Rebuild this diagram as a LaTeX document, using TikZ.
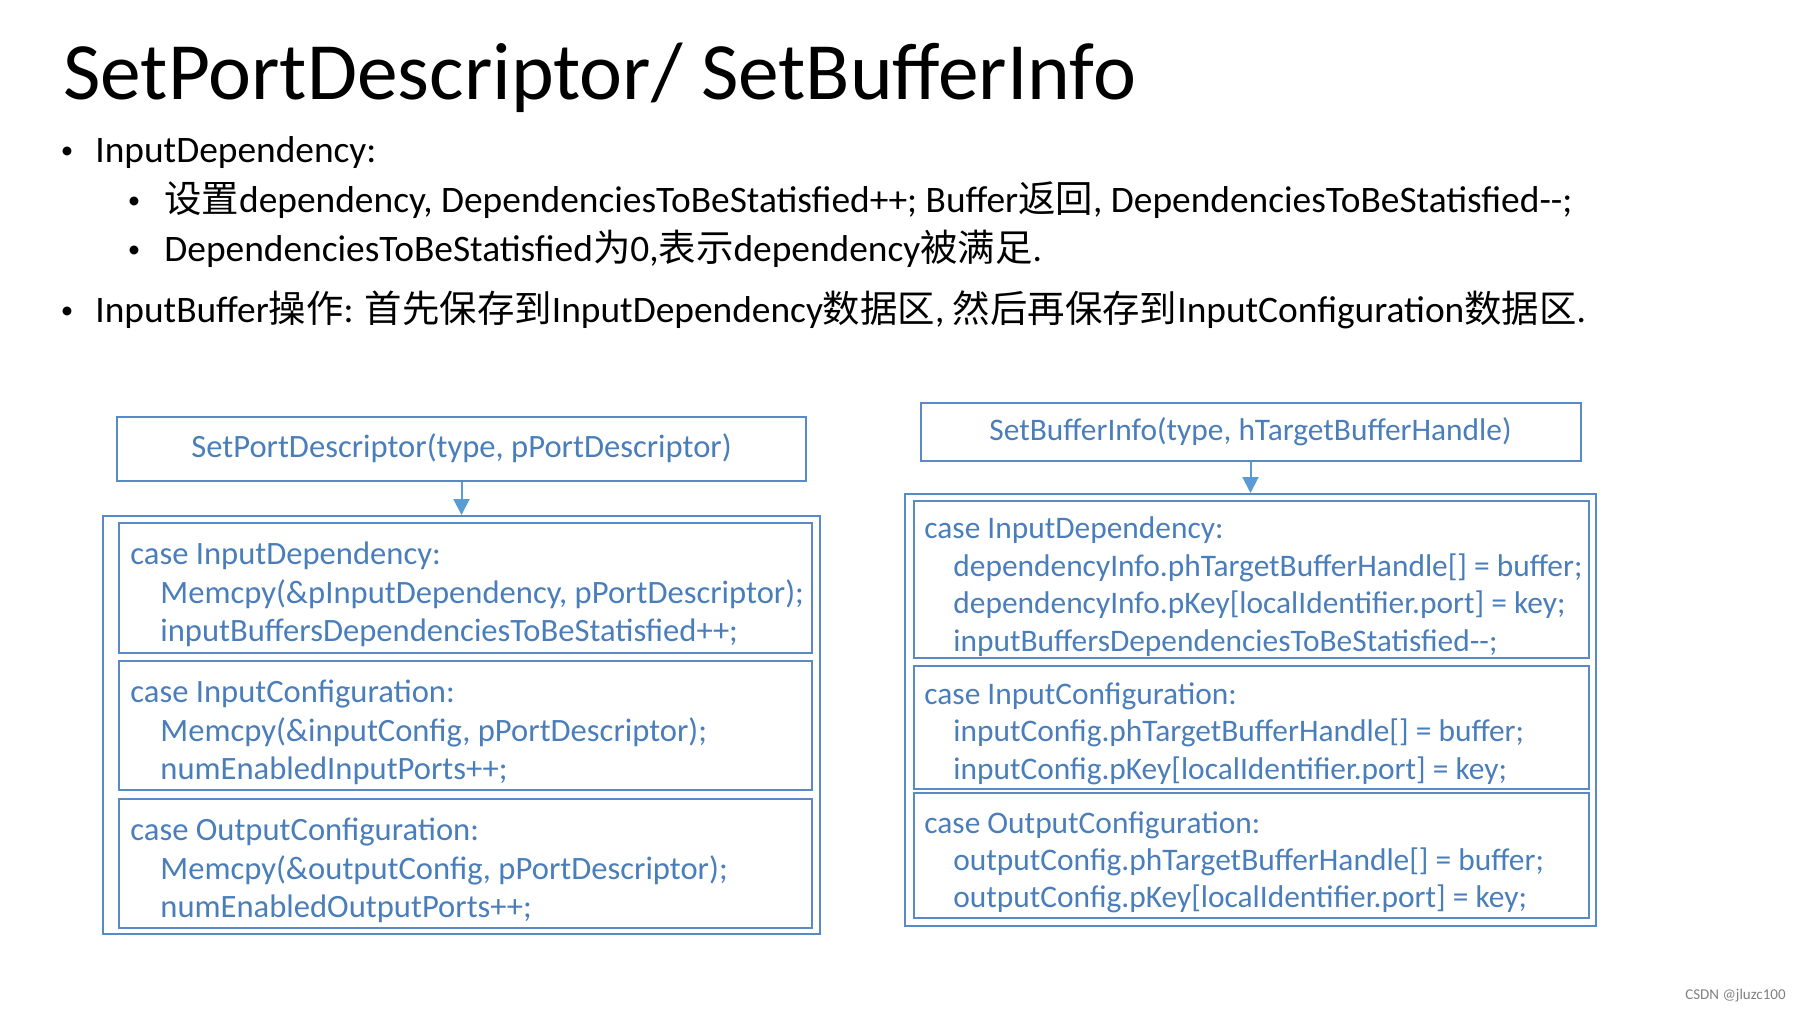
\documentclass[tikz,border=0pt]{standalone}
\usepackage{fontspec}
\setmainfont{Carlito}
\newfontfamily\cjk{Noto Sans CJK SC}
\usetikzlibrary{arrows.meta}
\definecolor{lineblue}{HTML}{5A8AC6}
\definecolor{textblue}{HTML}{4A7EBB}
\definecolor{arrowblue}{HTML}{5B9BD5}

\begin{document}
\begin{tikzpicture}[x=0.5pt, y=-0.5pt,
    boxline/.style = {draw=lineblue, line width=1pt, inner sep=0pt},
    body/.style = {anchor=base west, inner sep=0pt, font=\fontsize{18.7pt}{22pt}\selectfont},
    bullet/.style = {anchor=base, inner sep=0pt, font=\fontsize{12.5pt}{14pt}\selectfont},
    lcase/.style = {anchor=base west, inner sep=0pt, text=textblue, font=\fontsize{16.3pt}{19pt}\selectfont},
    rcase/.style = {anchor=base west, inner sep=0pt, text=textblue, font=\fontsize{15.7pt}{18.5pt}\selectfont},
    flow/.style = {draw=arrowblue, line width=1pt, -{Triangle[width=8pt,length=8pt]}}]
    \useasboundingbox (0,0) rectangle (1800,1013);
    % title and bullets
    \node[body, font=\fontsize{40.7pt}{48pt}\selectfont] (title) at (63,99) {SetPortDescriptor/ SetBufferInfo};
    \node[bullet] (b1) at (67,158) {•};
    \node[body] (t1) at (95,162) {InputDependency:};
    \node[bullet] (b2) at (134,208) {•};
    \node[body] (t2) at (164,212) {{\cjk 设置}dependency, DependenciesToBeStatisfied++; Buffer{\cjk 返回}, DependenciesToBeStatisfied-\kern0pt-;};
    \node[bullet] (b3) at (134,257) {•};
    \node[body] (t3) at (164,261) {DependenciesToBeStatisfied{\cjk 为}0,{\cjk 表示}dependency{\cjk 被满足}.};
    \node[bullet] (b4) at (67,318) {•};
    \node[body] (t4) at (95,322) {InputBuffer{\cjk 操作}: {\cjk 首先保存到}InputDependency{\cjk 数据区}, {\cjk 然后再保存到}InputConfiguration{\cjk 数据区}.};

    % SetPortDescriptor
    \node[boxline, minimum width=344.5pt, minimum height=32pt, text=textblue, font=\fontsize{16.3pt}{19pt}\selectfont] (lcall) at (461.5,448.5) {SetPortDescriptor(type, pPortDescriptor)};
    \node[boxline, minimum width=358.5pt, minimum height=209pt] (lswitch) at (461.5,725) {};
    \node[boxline, minimum width=346.5pt, minimum height=65pt] (ldep) at (465.5,588) {};
    \node[boxline, minimum width=346.5pt, minimum height=64.5pt] (lcfg) at (465.5,725.5) {};
    \node[boxline, minimum width=346.5pt, minimum height=64.5pt] (lout) at (465.5,863.5) {};
    \draw[flow] (lcall) -- (lswitch);
    \node[lcase] (ldep1) at (130,564) {case InputDependency:};
    \node[lcase] (ldep2) at (160,603) {Memcpy(\&pInputDependency, pPortDescriptor);};
    \node[lcase] (ldep3) at (160,641) {inputBuffersDependenciesToBeStatisfied++;};
    \node[lcase] (lcfg1) at (130,702) {case InputConfiguration:};
    \node[lcase] (lcfg2) at (160,741) {Memcpy(\&inputConfig, pPortDescriptor);};
    \node[lcase] (lcfg3) at (160,779) {numEnabledInputPorts++;};
    \node[lcase] (lout1) at (130,840) {case OutputConfiguration:};
    \node[lcase] (lout2) at (160,879) {Memcpy(\&outputConfig, pPortDescriptor);};
    \node[lcase] (lout3) at (160,917) {numEnabledOutputPorts++;};

    % SetBufferInfo
    \node[boxline, minimum width=330pt, minimum height=28.75pt, text=textblue, font=\fontsize{15.7pt}{18.5pt}\selectfont] (rcall) at (1250.5,431.75) {SetBufferInfo(type, hTargetBufferHandle)};
    \node[boxline, minimum width=345.7pt, minimum height=216pt] (rswitch) at (1250.5,710) {};
    \node[boxline, minimum width=337.6pt, minimum height=78.5pt] (rdep) at (1251.4,579.5) {};
    \node[boxline, minimum width=337.6pt, minimum height=61.75pt] (rcfg) at (1251.4,727.25) {};
    \node[boxline, minimum width=337.6pt, minimum height=62.25pt] (rout) at (1251.4,855.25) {};
    \draw[flow] (rcall) -- (rswitch);
    \node[rcase] (rdep1) at (924,538.5) {case InputDependency:};
    \node[rcase] (rdep2) at (953,576) {dependencyInfo.phTargetBufferHandle[] = buffer;};
    \node[rcase] (rdep3) at (953,613.5) {dependencyInfo.pKey[localIdentifier.port] = key;};
    \node[rcase] (rdep4) at (953,651) {inputBuffersDependenciesToBeStatisfied-\kern0pt-;};
    \node[rcase] (rcfg1) at (924,704.5) {case InputConfiguration:};
    \node[rcase] (rcfg2) at (953,741.5) {inputConfig.phTargetBufferHandle[] = buffer;};
    \node[rcase] (rcfg3) at (953,779.5) {inputConfig.pKey[localIdentifier.port] = key;};
    \node[rcase] (rout1) at (924,833) {case OutputConfiguration:};
    \node[rcase] (rout2) at (953,870) {outputConfig.phTargetBufferHandle[] = buffer;};
    \node[rcase] (rout3) at (953,907) {outputConfig.pKey[localIdentifier.port] = key;};

    \node[anchor=base east, inner sep=0pt, text=gray, font=\fontsize{7.5pt}{9pt}\selectfont] (mark) at (1786,999) {CSDN @jluzc100};
\end{tikzpicture}
\end{document}
